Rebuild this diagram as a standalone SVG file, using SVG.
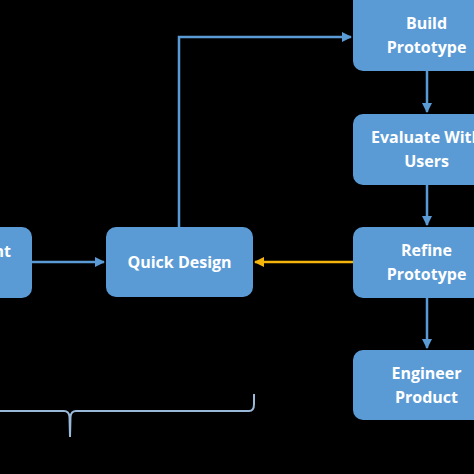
<svg xmlns="http://www.w3.org/2000/svg" width="474" height="474" viewBox="0 0 474 474">
<defs>
<style>
.node{fill:#5b9bd5;}
.lbl{fill:#ffffff;font-family:"Open Sans","Liberation Sans",sans-serif;font-weight:bold;font-size:16px;text-anchor:middle;}
.con{fill:none;stroke:#5b9bd5;stroke-width:2.5;}
.back{fill:none;stroke:#f5b50a;stroke-width:2.5;}
.brace{fill:none;stroke:#9ab8d8;stroke-width:2;}
</style>
<marker id="ab" viewBox="0 0 10 10" refX="9" refY="5" markerWidth="4" markerHeight="4" orient="auto" markerUnits="strokeWidth"><path d="M0,0 L10,5 L0,10 z" fill="#5b9bd5"/></marker>
<marker id="ao" viewBox="0 0 10 10" refX="9" refY="5" markerWidth="4" markerHeight="4" orient="auto" markerUnits="strokeWidth"><path d="M0,0 L10,5 L0,10 z" fill="#f5b50a"/></marker>
</defs>
<rect width="474" height="474" fill="#000000"/>
<g id="connectors">
<line class="con" x1="32" y1="262" x2="104" y2="262" marker-end="url(#ab)"/>
<polyline class="con" points="179,227 179,37 351,37" marker-end="url(#ab)"/>
<line class="con" x1="427" y1="71" x2="427" y2="112" marker-end="url(#ab)"/>
<line class="con" x1="427" y1="185" x2="427" y2="225" marker-end="url(#ab)"/>
<line class="back" x1="353" y1="262" x2="255" y2="262" marker-end="url(#ao)"/>
<line class="con" x1="427" y1="298" x2="427" y2="348" marker-end="url(#ab)"/>
</g>
<g id="brace">
<path class="brace" d="M0,411 L64,411 Q69,411 69.5,417 L70,437 M70,437 L70.5,417 Q71,411 76,411 L249,411 Q254,411 254,404 L254,394"/>
</g>
<g id="n_left">
<rect class="node" x="-115" y="227" width="147" height="71" rx="10"/>
<text class="lbl" x="-41.5" y="257">Requirement</text>
<text class="lbl" x="-41.5" y="281">Gathering</text>
</g>
<g id="n_quick">
<rect class="node" x="106" y="227" width="147" height="70" rx="10"/>
<text class="lbl" x="179.5" y="268">Quick Design</text>
</g>
<g id="n_build">
<rect class="node" x="353" y="-10" width="147" height="81" rx="10"/>
<text class="lbl" x="426.5" y="29">Build</text>
<text class="lbl" x="426.5" y="53">Prototype</text>
</g>
<g id="n_eval">
<rect class="node" x="353" y="114" width="147" height="71" rx="10"/>
<text class="lbl" x="426.5" y="143">Evaluate With</text>
<text class="lbl" x="426.5" y="167">Users</text>
</g>
<g id="n_refine">
<rect class="node" x="353" y="227" width="147" height="71" rx="10"/>
<text class="lbl" x="426.5" y="256">Refine</text>
<text class="lbl" x="426.5" y="280">Prototype</text>
</g>
<g id="n_eng">
<rect class="node" x="353" y="350" width="147" height="70" rx="10"/>
<text class="lbl" x="426.5" y="379">Engineer</text>
<text class="lbl" x="426.5" y="403">Product</text>
</g>
</svg>
